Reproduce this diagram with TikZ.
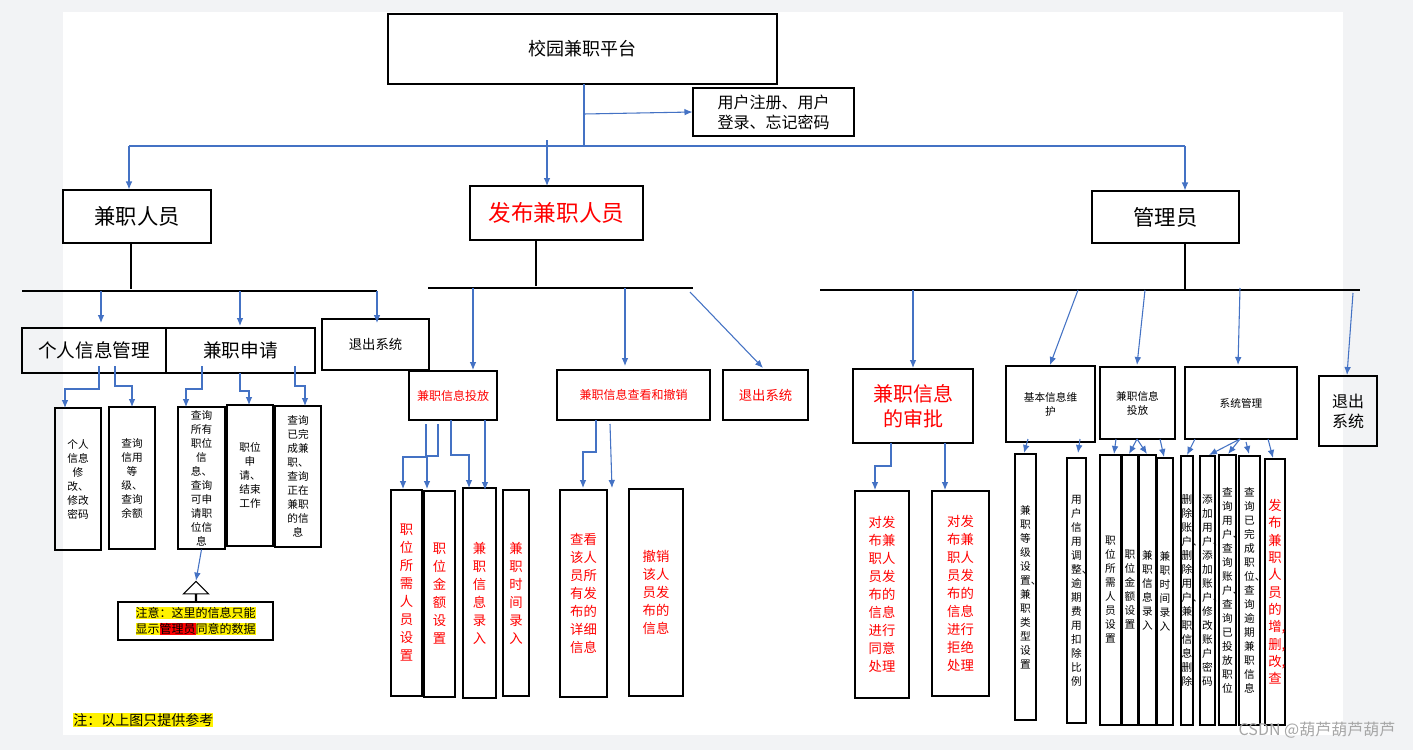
\documentclass[tikz,border=0pt]{standalone}
\usepackage{fontspec}
\setmainfont{Noto Sans CJK SC}
\usetikzlibrary{arrows.meta,shapes.arrows}
\XeTeXlinebreaklocale "zh"
\XeTeXlinebreakskip=0pt plus 1pt
\definecolor{ln}{HTML}{4472C4}
\definecolor{bgg}{HTML}{F2F3F5}
\newcommand\bx[7][]{\node[box,#1,minimum width={0.75*(#4-#2)},minimum height={0.75*(#5-#3)}] (#7) at ({(#2+#4)/2},{(#3+#5)/2}) {#6};}
\begin{document}
\begin{tikzpicture}[x=0.75pt,y=-0.75pt,
 box/.style={draw,thick,inner sep=0pt,align=center},
 red/.style={text=red},
 ar/.style={ln,thick,-{Latex[length=6pt,width=5pt]}},
 bar/.style={line width=1.5pt},
 f9/.style={font=\fontsize{8}{10.5}\selectfont},
 f10/.style={font=\fontsize{9}{12}\selectfont},
 f11/.style={font=\fontsize{10}{13.5}\selectfont}]
\useasboundingbox (0,0) rectangle (1413,750);
\fill[bgg] (0,0) rectangle (1413,750);
\fill[white] (63,12) rectangle (1343,735);
% top
\bx[font=\fontsize{13.5}{16}\selectfont]{388}{14}{777}{84}{校园兼职平台}{top}
\bx[font=\fontsize{12}{15}\selectfont]{693}{88}{854}{136}{用户注册、用户\\登录、忘记密码}{login}
\bx[font=\fontsize{16}{19}\selectfont]{63}{190}{211}{243}{兼职人员}{jz}
\bx[red,font=\fontsize{17}{20}\selectfont]{470}{186}{643}{240}{发布兼职人员}{fb}
\bx[font=\fontsize{16}{19}\selectfont]{1092}{191}{1239}{243}{管理员}{gl}
\coordinate (t0) at (584,84); \coordinate (t1) at (584,114); \coordinate (t2) at (584,146);
\coordinate (hL) at (129,146); \coordinate (hR) at (1185,146);
\draw[ln,thick] (t0) -- (t2); \draw[ar] (t1) -- (login.west);
\draw[ln,thick] (hL) -- (hR);
\draw[ar] (hL) -- (jz.north-|hL); \draw[ar] (547,140) -- (547,186); \draw[ar] (hR) -- (gl.north-|hR);
% bars
\draw[bar] (131,243) -- (131,289); \draw[bar] (22,291) -- (377,291);
\draw[bar] (536,240) -- (536,286); \draw[bar] (428,288) -- (693,288);
\draw[bar] (1185,243) -- (1185,289); \draw[bar] (820,290) -- (1360,290);
% left group
\bx[font=\fontsize{14}{17}\selectfont]{22}{328}{166}{373}{个人信息管理}{grxx}
\bx[font=\fontsize{14}{17}\selectfont]{166}{328}{315}{373}{兼职申请}{sq}
\bx[f11]{322}{319}{429}{370}{退出系统}{tc1}
\draw[ar] (101,291) -- (101,323); \draw[ar] (240,291) -- (240,326); \draw[ar] (377,291) -- (377,323);
\bx[f9]{55}{408}{101}{550}{\parbox{2.1em}{\centering 个人信息修改、修改密码}}{a1}
\bx[f9]{109}{407}{155}{549}{\parbox{2.1em}{\centering 查询信用等级、查询余额}}{a2}
\bx[f9]{178}{407}{225}{549}{\parbox{2.1em}{\centering 查询所有职位信息、查询可申请职位信息}}{a3}
\bx[f9]{227}{405}{273}{546}{\parbox{2.1em}{\centering 职位申请、结束工作}}{a4}
\bx[f9]{275}{406}{321}{547}{\parbox{2.1em}{\centering 查询已完成兼职、查询正在兼职的信息}}{a5}
\draw[ar] (99,366) |- (65,389) -- (65,408);
\draw[ar] (115,366) |- (132,386) -- (132,407);
\draw[ar] (202,366) |- (186,389) -- (186,407);
\draw[ar] (240,373) |- (249,391) -- (249,405);
\draw[ar] (295,366) |- (305,386) -- (305,406);
\node[draw,thick,single arrow,shape border rotate=90,minimum height=17pt,single arrow head extend=9pt,inner xsep=0pt,inner ysep=3.5pt,text width=0pt,fill=white] (barr) at (196,593) {};
\draw[ar] (a3.south) -- (barr.tip);
\bx[f10,fill=white]{118}{602}{273}{640}{\setlength\fboxsep{0pt}\colorbox{yellow}{注意：这里的信息只能}\\\setlength\fboxsep{0pt}\colorbox{yellow}{显示\colorbox{red}{管理员}同意的数据}}{note}
\node[font=\fontsize{10.5}{13}\selectfont,inner sep=0pt,fill=yellow,anchor=west] (ref) at (73,720) {注：以上图只提供参考};
% middle group
\bx[red,f10]{409}{371}{497}{420}{兼职信息投放}{m1}
\bx[red,f10]{557}{370}{710}{420}{兼职信息查看和撤销}{m2}
\bx[red,f11]{723}{370}{808}{420}{退出系统}{m3}
\draw[ar] (473,288) -- (473,370); \draw[ar] (625,288) -- (625,366); \draw[ar] (690,292) -- (763,368);
\bx[red,f11]{391}{490}{422}{696}{\parbox{1em}{\centering 职位所需人员设置}}{b1}
\bx[red,f11]{424}{491}{455}{697}{\parbox{1em}{\centering 职位金额设置}}{b2}
\bx[red,f11]{463}{488}{496}{698}{\parbox{1em}{\centering 兼职信息录入}}{b3}
\bx[red,f11]{503}{490}{529}{696}{\parbox{1em}{\centering 兼职时间录入}}{b4}
\bx[red,f11]{560}{490}{607}{697}{\parbox{2em}{\centering 查看该人员所有发布的详细信息}}{b5}
\bx[red,f11]{629}{489}{683}{696}{\parbox{2em}{\centering 撤销该人员发布的信息}}{b6}
\draw[ar] (426,424) |- (403,457) -- (403,489);
\draw[ar] (438,424) |- (427,456) -- (427,489);
\draw[ar] (451,420) |- (469,455) -- (469,488);
\draw[ar] (485,420) -- (485,490);
\draw[ar] (596,420) |- (583,452) -- (583,488);
\draw[ar] (610,424) -- (612,488);
% right group
\bx[red,font=\fontsize{15}{19}\selectfont]{853}{369}{973}{443}{兼职信息\\的审批}{r1}
\draw[ar] (913,290) -- (913,368);
\bx[red,f11]{855}{491}{909}{698}{\parbox{2em}{\centering 对发布兼职人员发布的信息进行同意处理}}{c1}
\bx[red,f11]{932}{491}{989}{696}{\parbox{2em}{\centering 对发布兼职人员发布的信息进行拒绝处理}}{c2}
\draw[ar] (891,443) |- (875,466) -- (875,490);
\draw[ar] (945,443) -- (945,490);
\bx[f9]{1006}{366}{1095}{442}{基本信息维\\护}{r2}
\bx[f9]{1100}{367}{1175}{439}{兼职信息\\投放}{r3}
\bx[f9]{1185}{367}{1297}{439}{系统管理}{r4}
\bx[font=\fontsize{12}{15}\selectfont]{1319}{376}{1377}{446}{退出\\系统}{r5}
\draw[ar] (1078,290) -- (1050,365); \draw[ar] (1145,290) -- (1137,365);
\draw[ar] (1240,288) -- (1238,365); \draw[ar] (1353,293) -- (1347,375);
\bx[f9]{1015}{454}{1036}{720}{\parbox{1em}{\centering 兼职等级设置、兼职类型设置}}{d1}
\bx[f9]{1067}{458}{1086}{723}{\parbox{1em}{\centering 用户信用调整、逾期费用扣除比例}}{d2}
\bx[f9]{1100}{455}{1121}{725}{\parbox{1em}{\centering 职位所需人员设置}}{d3}
\bx[f9]{1122}{455}{1138}{725}{\parbox{1em}{\centering 职位金额设置}}{d4}
\bx[f9]{1139}{455}{1156}{725}{\parbox{1em}{\centering 兼职信息录入}}{d5}
\bx[f9]{1157}{458}{1173}{725}{\parbox{1em}{\centering 兼职时间录入}}{d6}
\bx[f9]{1181}{456}{1193}{725}{\parbox{1em}{\centering 删除账户、删除用户、兼职信息删除}}{d7}
\bx[f9]{1200}{456}{1215}{725}{\parbox{1em}{\centering 添加用户、添加账户、修改账户密码}}{d8}
\bx[f9]{1219}{455}{1236}{725}{\parbox{1em}{\centering 查询用户、查询账户、查询已投放职位}}{d9}
\bx[f9]{1239}{456}{1260}{725}{\parbox{1em}{\centering 查询已完成职位、查询逾期兼职信息}}{d10}
\bx[red,font=\fontsize{10}{13}\selectfont]{1265}{459}{1285}{725}{\parbox{1em}{\centering 发布兼职人员的增,删,改,查}}{d11}
\draw[ar] (1028,439) -- (1024,453); \draw[ar] (1080,439) -- (1078,453);
\draw[ar] (1116,439) -- (1114,454); \draw[ar] (1137,439) -- (1129,454);
\draw[ar] (1137,439) -- (1147,454); \draw[ar] (1160,439) -- (1164,457);
\draw[ar] (1195,439) -- (1187,455); \draw[ar] (1240,439) -- (1209,455);
\draw[ar] (1240,439) -- (1228,454); \draw[ar] (1246,442) -- (1249,454);
\draw[ar] (1268,439) -- (1273,458);
\node[text=gray!70,font=\fontsize{12}{14}\selectfont,anchor=east] (wm) at (1400,730) {CSDN @葫芦葫芦葫芦};
\end{tikzpicture}
\end{document}
